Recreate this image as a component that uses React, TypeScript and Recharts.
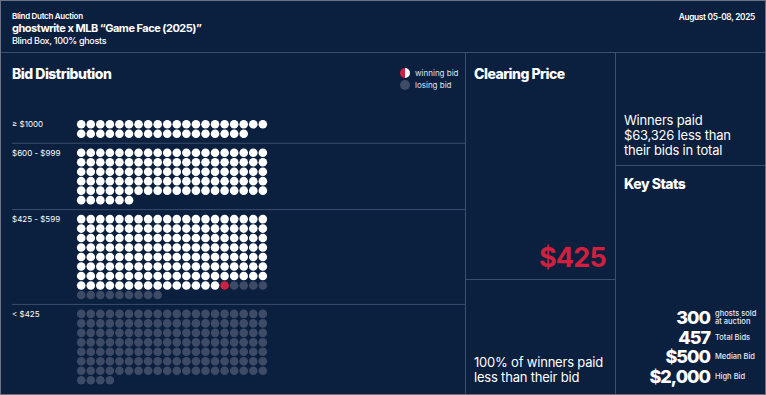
import { ScatterChart, Scatter, XAxis, YAxis, ReferenceLine } from "recharts"

const buckets = ["≥ $1000", "$600 - $999", "$425 - $599", "< $425"]
const winningBids = [38, 106, 156, 0]
const losingBids = [0, 0, 13, 144]
const statValues = ["300", "457", "$500", "$2,000"]
const statLabels = [["ghosts sold", "at auction"], ["Total Bids"], ["Median Bid"], ["High Bid"]]

const PER_ROW = 20
const NAVY = "#0b1f3f"
const LINE = "#3a4e6e"
const RED = "#d11f3f"
const GREY = "#3d4b67"
const FONT = "Inter, 'Noto Sans', sans-serif"

// lay the ghosts out 20 per row, one empty row between buckets
const dots: { col: number; row: number; kind: string }[] = []
const bucketRows: number[] = []
const separators: number[] = []
let startRow = 0
buckets.forEach((_, b) => {
  const total = winningBids[b] + losingBids[b]
  bucketRows.push(startRow)
  for (let i = 0; i < total; i++) {
    let kind = i < winningBids[b] ? "win" : "lose"
    if (b === 2 && i === winningBids[b] - 1) kind = "clearing"
    dots.push({ col: i % PER_ROW, row: startRow + Math.floor(i / PER_ROW), kind })
  }
  const rows = Math.ceil(total / PER_ROW)
  if (b < buckets.length - 1) separators.push(startRow + rows)
  startRow += rows + 1
})

const dotColor = (kind: string) => (kind === "win" ? "#ffffff" : kind === "clearing" ? RED : GREY)

const GhostDot = (props: any) => (
  <circle cx={props.cx} cy={props.cy} r={4.3} fill={dotColor(props.payload.kind)} />
)

const BucketTick = (props: any) => {
  const idx = bucketRows.indexOf(props.payload.value)
  return (
    <text x={11} y={props.y} dy={3} fill="#ffffff" fontSize={8} fontFamily={FONT}>
      {buckets[idx]}
    </text>
  )
}

const abs = (left: number, top: number, extra: any = {}) => ({
  position: "absolute" as const,
  left,
  top,
  fontFamily: FONT,
  color: "#ffffff",
  whiteSpace: "nowrap" as const,
  ...extra,
})

export default function App() {
  return (
    <div
      style={{
        position: "fixed",
        left: 0,
        top: 0,
        width: 766,
        height: 395,
        boxSizing: "border-box",
        background: NAVY,
        border: "1px solid #6b7282",
        overflow: "hidden",
      }}
    >
      {/* header */}
      <div style={abs(11, 10, { fontSize: 8, fontWeight: 600, letterSpacing: -0.3 })}>Blind Dutch Auction</div>
      <div style={abs(11, 20, { fontSize: 11, fontWeight: 700, letterSpacing: -0.5 })}>
        ghostwrite x MLB “Game Face (2025)”
      </div>
      <div style={abs(11, 34, { fontSize: 9, fontWeight: 500, letterSpacing: -0.3 })}>Blind Box, 100% ghosts</div>
      <div style={abs(0, 11, { width: 754, textAlign: "right", fontSize: 8.3, fontWeight: 600, letterSpacing: -0.3 })}>
        August 05-08, 2025
      </div>

      {/* panel rules */}
      <div style={{ position: "absolute", left: 0, top: 51, width: 766, height: 1, background: LINE }} />
      <div style={{ position: "absolute", left: 464, top: 52, width: 1, height: 343, background: LINE }} />
      <div style={{ position: "absolute", left: 614, top: 52, width: 1, height: 343, background: LINE }} />
      <div style={{ position: "absolute", left: 465, top: 278, width: 150, height: 1, background: LINE }} />
      <div style={{ position: "absolute", left: 615, top: 164, width: 151, height: 1, background: LINE }} />

      {/* bid distribution */}
      <div style={abs(11, 64, { fontSize: 14, fontWeight: 800, letterSpacing: -0.5 })}>Bid Distribution</div>
      <div style={{ position: "absolute", left: 0, top: 52 }}>
        <ScatterChart width={465} height={343} margin={{ top: 0, right: 0, bottom: 0, left: 0 }}>
          <XAxis type="number" dataKey="col" hide domain={[-0.544, 40.25]} allowDataOverflow />
          <YAxis
            type="number"
            dataKey="row"
            reversed
            width={75}
            domain={[-7.52, 28.66]}
            allowDataOverflow
            ticks={bucketRows}
            interval={0}
            axisLine={false}
            tickLine={false}
            tick={<BucketTick />}
          />
          {separators.map((r) => (
            <ReferenceLine
              key={r}
              segment={[
                { x: -7.24, y: r },
                { x: 40.25, y: r },
              ]}
              stroke={LINE}
              strokeWidth={1}
              ifOverflow="visible"
            />
          ))}
          <Scatter data={dots} shape={<GhostDot />} isAnimationActive={false} />
        </ScatterChart>
      </div>

      {/* legend */}
      <div style={abs(399, 66, { fontSize: 8, color: "#dfe4ee", lineHeight: "12px" })}>
        <div style={{ display: "flex", alignItems: "center", gap: 5 }}>
          <svg width={10} height={10}>
            <path d="M5,0 A5,5 0 0 0 5,10 Z" fill={RED} />
            <path d="M5,0 A5,5 0 0 1 5,10 Z" fill="#ffffff" />
          </svg>
          winning bid
        </div>
        <div style={{ display: "flex", alignItems: "center", gap: 5 }}>
          <svg width={10} height={10}>
            <circle cx={5} cy={5} r={5} fill={GREY} />
          </svg>
          losing bid
        </div>
      </div>

      {/* clearing price */}
      <div style={abs(473, 64, { fontSize: 14, fontWeight: 800, letterSpacing: -0.5 })}>Clearing Price</div>
      <div
        style={abs(465, 240, {
          width: 140,
          textAlign: "right",
          fontSize: 27,
          fontWeight: 700,
          letterSpacing: -0.8,
          color: RED,
        })}
      >
        $425
      </div>
      <div style={abs(473, 354, { fontSize: 13, lineHeight: "15px", letterSpacing: -0.2 })}>
        100% of winners paid
        <br />
        less than their bid
      </div>

      {/* right panel */}
      <div style={abs(623, 112, { fontSize: 13, lineHeight: "15px", letterSpacing: -0.2 })}>
        Winners paid
        <br />
        $63,326 less than
        <br />
        their bids in total
      </div>
      <div style={abs(623, 174, { fontSize: 14, fontWeight: 800, letterSpacing: -0.5 })}>Key Stats</div>
      {statValues.map((v, i) => (
        <div key={v} style={{ position: "absolute", left: 615, top: 308 + i * 19.5, width: 151, height: 17 }}>
          <div
            style={abs(0, 0, {
              width: 94,
              textAlign: "right",
              fontSize: 18,
              lineHeight: "17px",
              fontWeight: 800,
              letterSpacing: -1,
            })}
          >
            {v}
          </div>
          <div
            style={abs(99, statLabels[i].length > 1 ? 1 : 5, {
              fontSize: 7.5,
              lineHeight: "8px",
              fontWeight: 500,
              color: "#e6e9f0",
            })}
          >
            {statLabels[i].map((l) => (
              <div key={l}>{l}</div>
            ))}
          </div>
        </div>
      ))}
    </div>
  )
}
